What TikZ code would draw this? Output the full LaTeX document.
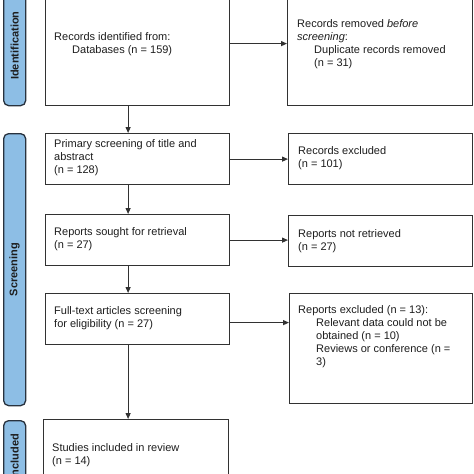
\documentclass[tikz,border=0pt]{standalone}
\usepackage{fontspec}
\setmainfont{Liberation Sans}
\usetikzlibrary{arrows.meta}
\definecolor{sidefill}{RGB}{141,190,229}
\definecolor{sideline}{RGB}{40,50,62}
\definecolor{boxline}{RGB}{50,50,50}
\definecolor{txt}{RGB}{30,30,30}
\begin{document}
\begin{tikzpicture}[x=1pt,y=-1pt,
  box/.style={draw=boxline,line width=1.2pt,fill=white,rectangle,inner sep=0pt,anchor=north west},
  lbl/.style={anchor=west,inner sep=0pt,align=left,text=txt,font=\fontsize{11}{13}\selectfont},
  side/.style={draw=sideline,line width=1.3pt,fill=sidefill,rounded corners=5pt,rectangle,inner sep=0pt,anchor=north west,minimum width=22pt},
  sidetxt/.style={rotate=90,text=txt,font=\fontsize{11}{13}\selectfont\bfseries,inner sep=0pt},
  arr/.style={draw=boxline,line width=1.1pt,-{Triangle[length=6pt,width=5pt]}}]
\useasboundingbox (0,0) rectangle (474,474);
\clip (0,0) rectangle (474,474);
\fill[white] (0,0) rectangle (474,474);
% sidebars
\node[side,minimum height=120pt] (s1) at (3,-15) {};
\node[sidetxt] (s1t) at (s1.center) {Identification};
\node[side,minimum height=272pt] (s2) at (3,133) {};
\node[sidetxt] (s2t) at (s2.center) {Screening};
\node[side,minimum height=72pt] (s3) at (3,420) {};
\node[sidetxt] (s3t) at (s3.center) {Included};
% boxes
\node[box,minimum width=184pt,minimum height=124pt] (b1) at (45,-19) {};
\node[box,minimum width=185pt,minimum height=124pt] (b2) at (287,-19) {};
\node[box,minimum width=184pt,minimum height=51pt] (b3) at (45,133) {};
\node[box,minimum width=184pt,minimum height=51pt] (b4) at (288,133) {};
\node[box,minimum width=184pt,minimum height=51pt] (b5) at (45,214) {};
\node[box,minimum width=184pt,minimum height=51pt] (b6) at (288,215) {};
\node[box,minimum width=184pt,minimum height=51pt] (b7) at (45,293) {};
\node[box,minimum width=183pt,minimum height=110pt] (b8) at (289,293) {};
\node[box,minimum width=185pt,minimum height=81pt] (b9) at (43,419) {};
% texts
\node[lbl] (t1) at (54,44.5) {Records identified from:\\\hspace*{18pt}Databases (n = 159)};
\node[lbl] (t2) at (297,44.5) {Records removed \textit{before}\\\textit{screening}:\\\hspace*{17pt}Duplicate records removed\\\hspace*{17pt}(n = 31)};
\node[lbl] (t3) at (54,158) {Primary screening of title and\\abstract\\(n = 128)};
\node[lbl] (t4) at (298,158) {Records excluded\\(n = 101)};
\node[lbl] (t5) at (54,239) {Reports sought for retrieval\\(n = 27)};
\node[lbl] (t6) at (298,241.5) {Reports not retrieved\\(n = 27)};
\node[lbl] (t7) at (54,318.5) {Full-text articles screening\\for eligibility (n = 27)};
\node[lbl] (t8) at (298,337) {Reports excluded (n = 13):\\\hspace*{18pt}Relevant data could not be\\\hspace*{18pt}obtained (n = 10)\\\hspace*{18pt}Reviews or conference (n =\\\hspace*{18pt}3)};
\node[lbl] (t9) at (52,455) {Studies included in review\\(n = 14)};
% connectors
\draw[arr] (b1.east) -- (b2.west);
\draw[arr] (b3.east) -- (b4.west);
\draw[arr] (b5.east) -- (b5.east -| b6.west);
\draw[arr] ([yshift=-3.5pt]b7.east) -- ([yshift=-3.5pt]b7.east -| b8.west);
\draw[arr] ([xshift=-9.5pt]b1.south) -- ([xshift=-9.5pt]b3.north);
\draw[arr] ([xshift=-9.5pt]b3.south) -- ([xshift=-9.5pt]b5.north);
\draw[arr] ([xshift=-9.5pt]b5.south) -- ([xshift=-9.5pt]b7.north);
\draw[arr] ([xshift=-9.5pt]b7.south) -- ([xshift=-9.5pt]b7.south |- b9.north);
\end{tikzpicture}
\end{document}
